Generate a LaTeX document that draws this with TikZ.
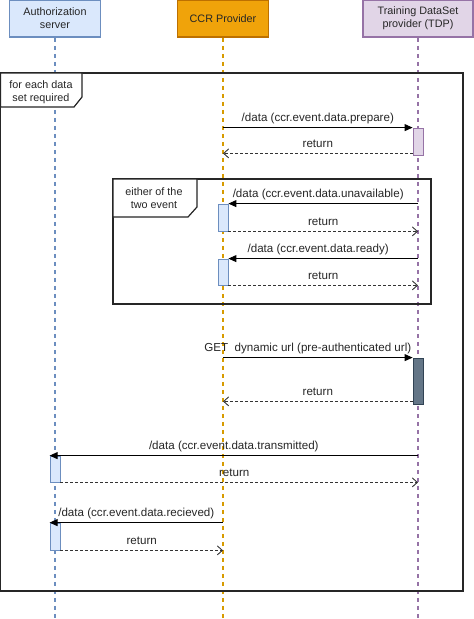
\documentclass[tikz,border=0pt]{standalone}
\usepackage{fontspec}
\setmainfont{Liberation Sans}
\usepackage{xcolor}
\usepackage{tikz}
\usetikzlibrary{shapes,arrows.meta,calc}

\definecolor{authFill}{HTML}{DAE8FC}
\definecolor{authLine}{HTML}{6C8EBF}
\definecolor{ccrFill}{HTML}{F0A30A}
\definecolor{ccrLine}{HTML}{BD7000}
\definecolor{ccrDash}{HTML}{D79B00}
\definecolor{tdpFill}{HTML}{E1D5E7}
\definecolor{tdpLine}{HTML}{9673A6}
\definecolor{darkFill}{HTML}{647687}
\definecolor{darkLine}{HTML}{314354}

\tikzstyle{tsText} = [ 
    text=black!85, 
    font=\fontsize{10.8}{13}\selectfont
]
\tikzstyle{tsActor} = [ 
    rectangle,
    tsText,
    align=center,
    inner sep=0pt,
    minimum width=91pt,
    minimum height=37pt,
    line width=1.5pt]
\tikzstyle{tsLife} = [ 
    dash pattern=on 4pt off 4pt,
    line width=1.5pt]
\tikzstyle{tsAct} = [ 
    rectangle,
    draw=authLine,
    fill=authFill,
    inner sep=0pt,
    minimum width=10pt,
    minimum height=27pt,
    line width=0.8pt]
\tikzstyle{tsFrame} = [ 
    draw=black!85,
    line width=1.2pt]
\tikzstyle{tsCall} = [ 
    -{Triangle[length=8pt,width=7pt]},
    draw=black,
    line width=0.9pt]
\tikzstyle{tsReturn} = [ 
    -{Straight Barb[length=5pt,width=9pt]},
    draw=black!80,
    dash pattern=on 3pt off 2pt,
    line width=0.9pt]
\tikzstyle{tsMsg} = [ 
    tsText,
    font=\fontsize{11.6}{13}\selectfont,
    anchor=base,
    inner sep=0pt,
    yshift=6pt]

\begin{document}
\begin{tikzpicture}[x=1pt, y=-1pt]
        \useasboundingbox (0,0) rectangle (474,619);

        % participants
        \node[tsActor, draw=authLine, fill=authFill] (auth) at (55,18.5) {Authorization\\server};
        \node[tsActor, draw=ccrLine, fill=ccrFill] (ccr) at (223,18.5) {CCR Provider};
        \node[tsActor, draw=tdpLine, fill=tdpFill, minimum width=110pt] (tdp) at (418,18.5) {Training DataSet\\provider (TDP)};

        % lifelines
        \draw[tsLife, draw=authLine] (auth.south) -- (auth |- 0,619);
        \draw[tsLife, draw=ccrDash] (ccr.south) -- (ccr |- 0,619);
        \draw[tsLife, draw=tdpLine] (tdp.south) -- (tdp |- 0,619);

        % loop frame
        \draw[tsFrame] (0.5,73) rectangle (463,591);
        \draw[tsFrame, fill=white] (0.5,73) -- (82,73) -- (82,97) -- (74,107) -- (0.5,107) -- cycle;
        \node[tsText, align=center] (loopLbl) at (41,92) {for each data\\set required};

        % alt frame
        \draw[tsFrame] (113,179) rectangle (431,304);
        \draw[tsFrame, fill=white] (113,179) -- (197,179) -- (197,207) -- (188,217) -- (113,217) -- cycle;
        \node[tsText, align=center] (altLbl) at (154,198) {either of the\\two event};

        % activations
        \node[tsAct, draw=tdpLine, fill=tdpFill] (actPrep) at (418,141.5) {};
        \node[tsAct] (actUnav) at (223,217.5) {};
        \node[tsAct, minimum height=26pt] (actReady) at (223,272) {};
        \node[tsAct, draw=darkLine, fill=darkFill, minimum height=46pt] (actGet) at (418,381) {};
        \node[tsAct, minimum height=26pt] (actTrans) at (55,469) {};
        \node[tsAct] (actRecv) at (55,536.5) {};

        % messages
        \draw[tsCall] (ccr |- actPrep.north) -- node[tsMsg] {/data (ccr.event.data.prepare)} (actPrep.north west);
        \draw[tsReturn] ($(actPrep.south west)+(0,-2)$) -- node[tsMsg] {return} ($(ccr |- actPrep.south)+(0,-2)$);

        \draw[tsCall] (tdp |- actUnav.north) -- node[tsMsg, xshift=-5pt] {/data (ccr.event.data.unavailable)} (actUnav.north east);
        \draw[tsReturn] (actUnav.south east) -- node[tsMsg] {return} (tdp |- actUnav.south);

        \draw[tsCall] (tdp |- actReady.north) -- node[tsMsg, xshift=-5pt] {/data (ccr.event.data.ready)} (actReady.north east);
        \draw[tsReturn] (actReady.south east) -- node[tsMsg] {return} (tdp |- actReady.south);

        \draw[tsCall] (ccr |- actGet.north) -- node[tsMsg, xshift=-10pt] {GET\ \ dynamic url (pre-authenticated url)} (actGet.north west);
        \draw[tsReturn] ($(actGet.south west)+(0,-3)$) -- node[tsMsg] {return} ($(ccr |- actGet.south)+(0,-3)$);

        \draw[tsCall] (tdp |- actTrans.north) -- node[tsMsg] {/data (ccr.event.data.transmitted)} (actTrans.north west);
        \draw[tsReturn] (actTrans.south east) -- node[tsMsg, xshift=-5pt] {return} (tdp |- actTrans.south);

        \draw[tsCall] (ccr |- actRecv.north) -- node[tsMsg] {/data (ccr.event.data.recieved)} (actRecv.north west);
        \draw[tsReturn] (actRecv.south east) -- node[tsMsg] {return} (ccr |- actRecv.south);

\end{tikzpicture}
\end{document}
